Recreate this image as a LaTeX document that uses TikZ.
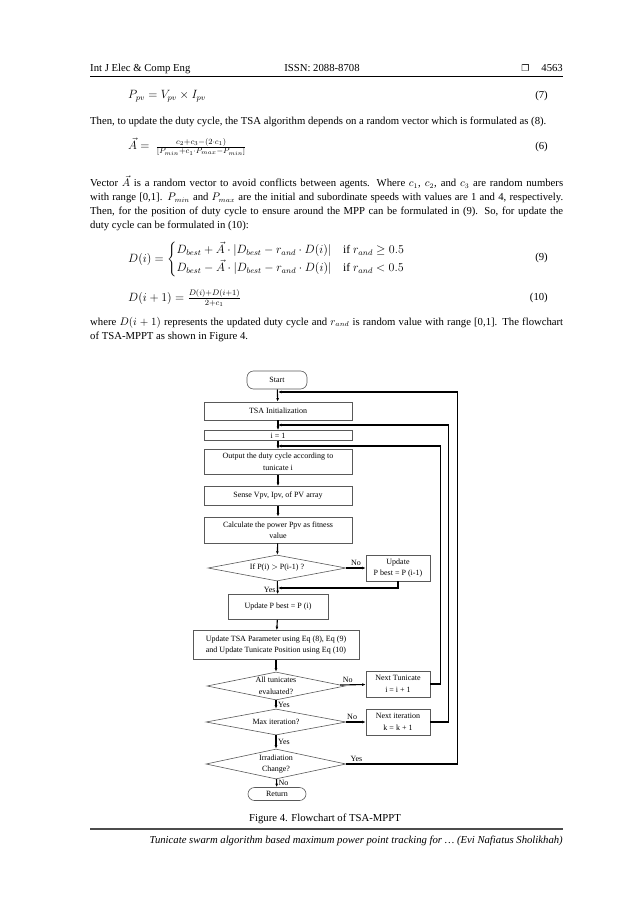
\documentclass[tikz,border=0pt]{standalone}
\usepackage{amsmath,amssymb}
\usepackage{fontspec}
\setmainfont{Liberation Serif}
\newfontfamily\dingfont{DejaVu Sans}
\usetikzlibrary{shapes.geometric}
\usetikzlibrary{arrows.meta}
\usetikzlibrary{positioning}

\newcommand{\bodysize}{\fontsize{10.7}{14}\selectfont}
\newcommand{\eqsize}{\fontsize{11.6}{15}\selectfont}
\newcommand{\flowsize}{\fontsize{8}{11.5}\selectfont}
\newcommand{\jline}[1]{\makebox[473pt][s]{#1}}

\begin{document}
\begin{tikzpicture}[x=1pt, y=-1pt,
    every node/.style={inner sep=0pt, font=\bodysize},
    txt/.style={anchor=base west},
    eqn/.style={anchor=west, font=\eqsize},
    eqno/.style={anchor=east},
    proc/.style={rectangle, draw=black!65, line width=0.6pt, align=center, font=\flowsize},
    term/.style={rectangle, rounded corners=6.5pt, draw=black!65, line width=0.6pt, font=\flowsize},
    dec/.style={diamond, shape aspect=4, inner sep=-7pt, draw=black!65, line width=0.6pt, align=center, font=\flowsize},
    flow/.style={line width=1.1pt, -{Latex[length=3.5pt, width=2.8pt]}},
    lbl/.style={font=\flowsize, inner sep=1.5pt}
  ]
  \useasboundingbox (0,0) rectangle (638,902);

  % Header
  \node[txt] (hdl) at (90,71.5) {Int J Elec \& Comp Eng};
  \node[anchor=base] (hdc) at (322,71.5) {ISSN: 2088-8708};
  \node[anchor=base east] (hdr) at (563,71.5) {{\dingfont\small ❐}\hspace{12pt}4563};
  \draw[line width=0.8pt] (90,76) -- (563,76);

  % Equations and text
  \node[eqn] (eq7) at (128,96) {$P_{pv} = V_{pv} \times I_{pv}$};
  \node[eqno] (n7) at (548,96) {(7)};
  \node[txt] (p1) at (90,124) {Then, to update the duty cycle, the TSA algorithm depends on a random vector which is formulated as (8).};
  \node[eqn] (eq6) at (128,147) {$\vec{A} = \ \frac{c_2+c_3-(2\cdot c_1)}{[P_{min}+c_1\cdot P_{max}-P_{min}]}$};
  \node[eqno] (n6) at (548,147) {(6)};
  \node[txt] (p2) at (90,186.5) {\jline{Vector $\vec{A}$ is a random vector to avoid conflicts between agents. Where $c_1$, $c_2$, and $c_3$ are random numbers}};
  \node[txt] (p3) at (90,200.5) {\jline{with range [0,1]. $P_{min}$ and $P_{max}$ are the initial and subordinate speeds with values are 1 and 4, respectively.}};
  \node[txt] (p4) at (90,214.5) {\jline{Then, for the position of duty cycle to ensure around the MPP can be formulated in (9). So, for update the}};
  \node[txt] (p5) at (90,228.5) {duty cycle can be formulated in (10):};
  \node[eqn] (eq9) at (128,259) {$D(i) = \begin{cases} D_{best} + \vec{A}\cdot|D_{best} - r_{and}\cdot D(i)| & \text{if } r_{and} \geq 0.5\\ D_{best} - \vec{A}\cdot|D_{best} - r_{and}\cdot D(i)| & \text{if } r_{and} < 0.5 \end{cases}$};
  \node[eqno] (n9) at (548,258) {(9)};
  \node[eqn] (eq10) at (128,298) {$D(i+1) = \frac{D(i)+D(i+1)}{2+c_1}$};
  \node[eqno] (n10) at (548,298) {(10)};
  \node[txt] (p6) at (90,325) {\jline{where $D(i+1)$ represents the updated duty cycle and $r_{and}$ is random value with range [0,1]. The flowchart}};
  \node[txt] (p7) at (90,339) {of TSA-MPPT as shown in Figure 4.};

  % Flowchart nodes
  \node[term, minimum width=60, minimum height=18] (start) at (277,380) {Start};
  \node[proc, minimum width=148, minimum height=18] (init) at (278,411) {TSA Initialization};
  \node[proc, minimum width=148, minimum height=10] (ione) at (278,435.5) {i = 1};
  \node[proc, minimum width=148, minimum height=25] (duty) at (278,462) {Output the duty cycle according to\\tunicate i};
  \node[proc, minimum width=148, minimum height=19] (sense) at (278,496) {Sense Vpv, Ipv, of PV array};
  \node[proc, minimum width=148, minimum height=26] (calc) at (278,530) {Calculate the power Ppv as fitness\\value};
  \node[dec, minimum width=138, minimum height=26] (cmp) at (277,568) {If P(i) {$>$} P(i-1) ?};
  \node[proc, minimum width=64, minimum height=26] (updold) at (398,568) {Update\\P best = P (i-1)};
  \node[proc, minimum width=100, minimum height=25] (updnew) at (278,607) {Update P best = P (i)};
  \node[proc, minimum width=166, minimum height=29] (updtsa) at (276,645) {Update TSA Parameter using Eq  (8), Eq (9)\\and Update Tunicate Position using Eq (10)};
  \node[dec, minimum width=138, minimum height=28] (alltun) at (276,686) {All tunicates\\evaluated?};
  \node[proc, minimum width=64, minimum height=26] (nexttun) at (398,684) {Next Tunicate\\i = i + 1};
  \node[dec, minimum width=140, minimum height=26] (maxit) at (276,722) {Max iteration?};
  \node[proc, minimum width=64, minimum height=26] (nextit) at (398,722) {Next iteration\\k = k + 1};
  \node[dec, minimum width=140, minimum height=30] (irr) at (276,764) {Irradiation\\Change?};
  \node[term, minimum width=58, minimum height=13] (ret) at (277,794) {Return};

  \coordinate (jstart) at (278,392);
  \coordinate (jinit) at (278,425);
  \coordinate (jione) at (278,446);
  \coordinate (jcmp) at (278,588);

  % Edges
  \draw[flow] (start) -- (init);
  \draw[flow] (init) -- (ione);
  \draw[flow] (ione) -- (duty);
  \draw[flow] (duty) -- (sense);
  \draw[flow] (sense) -- (calc);
  \draw[flow] (calc) -- (cmp);
  \draw[flow] (cmp) -- node[lbl, above] {No} (updold);
  \draw[flow] (cmp) -- node[lbl, left, pos=0.65] {Yes} (updnew);
  \draw[flow] (updnew) -- (updtsa);
  \draw[flow] (updtsa) -- (alltun);
  \draw[flow] (alltun) -- node[lbl, above, pos=0.3] {No} (nexttun);
  \draw[flow] (alltun) -- node[lbl, right] {Yes} (maxit);
  \draw[flow] (maxit) -- node[lbl, above, pos=0.3] {No} (nextit);
  \draw[flow] (maxit) -- node[lbl, right] {Yes} (irr);
  \draw[flow] (irr) -- node[lbl, right] {No} (ret);

  % Loops back
  \draw[flow] (updold.south) |- (jcmp);
  \draw[flow] (nexttun.east) -- ++(10,0) |- (jione);
  \draw[flow] (nextit.east) -- ++(18,0) |- (jinit);
  \draw[flow] (irr.east) -- node[lbl, above right, pos=0.02] {Yes} ++(111,0) |- (jstart);

  % Caption and footer
  \node[anchor=base] (cap) at (325,821.5) {Figure 4. Flowchart of TSA-MPPT};
  \draw[line width=1.2pt, black!70] (90,829) -- (563,829);
  \node[anchor=base east] (foot) at (563,843) {\itshape Tunicate swarm algorithm based maximum power point tracking for … (Evi Nafiatus Sholikhah)};

\end{tikzpicture}
\end{document}
